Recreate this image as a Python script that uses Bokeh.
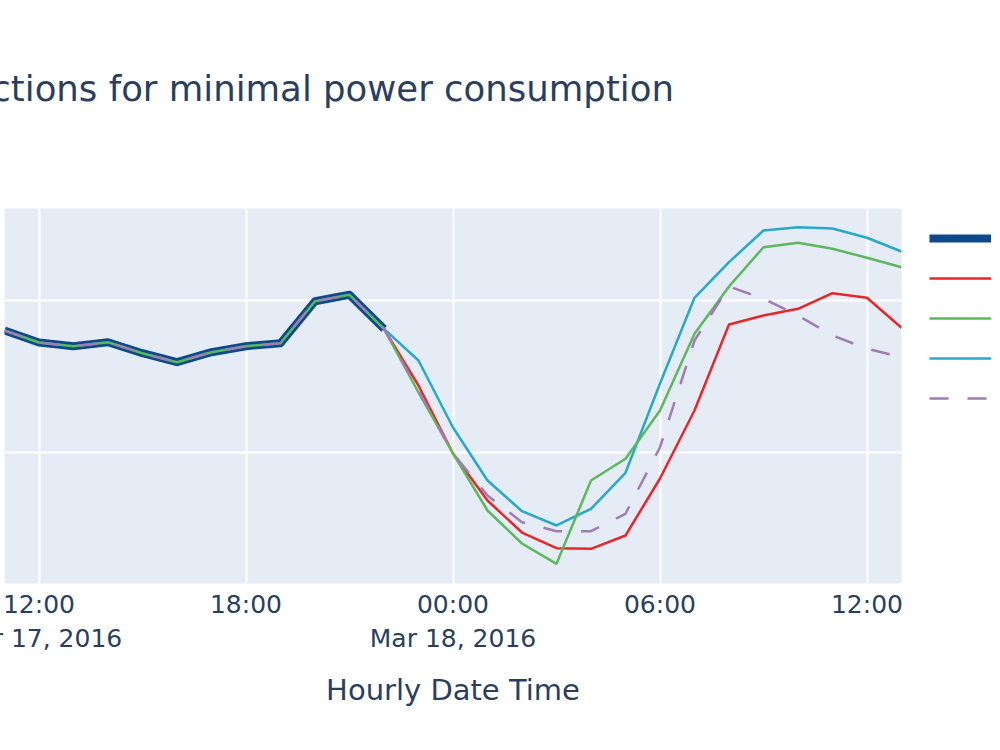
from bokeh.plotting import figure
from bokeh.models import Range1d, FixedTicker, Legend, LegendItem, Title
from bokeh.embed import file_html
from bokeh.resources import INLINE
import pandas as pd

# Hourly time stamps shown on the chart
hours = pd.date_range("2016-03-17 11:00", "2016-03-18 13:00", freq="h")
n_hist = 12  # 11:00 .. 22:00 on Mar 17 are observed values

# Observed consumption (11:00 .. 22:00)
actual = [24013, 23618, 23497, 23628, 23266, 22970, 23299, 23497, 23595, 24977, 25188, 24069]

# Predictions from 22:00 Mar 17 to 13:00 Mar 18
pred_a = [24069, 22204, 19967, 18421, 17368, 16852, 16832, 17270, 19145, 21382, 24211, 24507, 24727, 25240, 25089, 24102]
pred_b = [24069, 21974, 19967, 18092, 17007, 16339, 19079, 19793, 21382, 23905, 25461, 26753, 26898, 26701, 26405, 26095]
pred_c = [24069, 23026, 20822, 19079, 18069, 17599, 18148, 19332, 22270, 25089, 26260, 27303, 27411, 27368, 27063, 26612]
pred_d = [24069, 22039, 19967, 18586, 17707, 17411, 17411, 17984, 20174, 23684, 25461, 25056, 24507, 23849, 23411, 23135]

labels = ["Actual", "Linear Regression", "Random Forest", "XGBoost", "LSTM"]
y_ticks = [20000, 25000]
y_tick_labels = ["20k", "25k"]
x_tick_times = ["2016-03-17 12:00", "2016-03-17 18:00", "2016-03-18 00:00", "2016-03-18 06:00", "2016-03-18 12:00"]
x_tick_labels = ["12:00\nMar 17, 2016", "18:00", "00:00\nMar 18, 2016", "06:00", "12:00"]
title_text = "Predictions for minimal power consumption"

TEXT = "#2a3f5f"
FONT = "DejaVu Sans"

# The reference shows a cropped view: the page is shifted up and left so that
# the y tick labels, the start of the title and the legend labels fall outside.
p = figure(width=1751, height=779, x_axis_type="datetime",
           output_backend="svg", toolbar_location=None,
           min_border_left=116, min_border_right=737, min_border_top=242, min_border_bottom=162,
           styles={"margin-left": "-112px", "margin-top": "-34px", "margin-right": "-650px"})
p.x_range = Range1d(hours[0], hours[-1])
p.y_range = Range1d(15691, 28026)
p.background_fill_color = "#e5ecf6"
p.border_fill_color = "white"
p.outline_line_color = None

p.title = Title(text=title_text, align="left", offset=-102, standoff=199,
                text_font=FONT, text_font_size="35.5px", text_font_style="normal", text_color=TEXT)

# historical line and prediction lines
r0 = p.line(hours[:n_hist], actual, line_color="#0d4a8b", line_width=8, line_join="round")
r1 = p.line(hours[n_hist - 1:], pred_a, line_color="#e8262a", line_width=2.5)
r3 = p.line(hours[n_hist - 1:], pred_c, line_color="#27a9c8", line_width=2.5)
r2 = p.line(hours, actual[:-1] + pred_b, line_color="#5cb85c", line_width=2.5)
r4 = p.line(hours, actual[:-1] + pred_d, line_color="#a07cb5", line_width=2.5, line_dash="19 19")

legend = Legend(items=[LegendItem(label=l, renderers=[r]) for l, r in zip(labels, [r0, r1, r2, r3, r4])],
                location=(28, 171), padding=0, margin=0, spacing=11,
                glyph_width=62, glyph_height=28, label_height=28, label_standoff=16,
                label_text_font=FONT, label_text_font_size="25px", label_text_color=TEXT,
                border_line_color=None, background_fill_alpha=0)
p.add_layout(legend, "right")

# x axis
tick_ms = [int(pd.Timestamp(t).value // 10**6) for t in x_tick_times]
p.xaxis.ticker = FixedTicker(ticks=tick_ms)
p.xaxis.major_label_overrides = dict(zip(tick_ms, x_tick_labels))
p.xaxis.axis_label = "Hourly Date Time"
p.xaxis.axis_label_standoff = 17
p.xaxis.axis_label_text_font = FONT
p.xaxis.axis_label_text_font_size = "29px"
p.xaxis.axis_label_text_font_style = "normal"
p.xaxis.axis_label_text_color = TEXT
p.xaxis.major_label_standoff = 0

# y axis
p.yaxis.ticker = FixedTicker(ticks=y_ticks)
p.yaxis.major_label_overrides = dict(zip(y_ticks, y_tick_labels))
p.yaxis.major_label_standoff = 2

for ax in [p.xaxis[0], p.yaxis[0]]:
    ax.axis_line_color = None
    ax.major_tick_line_color = None
    ax.minor_tick_line_color = None
    ax.major_label_text_font = FONT
    ax.major_label_text_font_size = "25px"
    ax.major_label_text_color = TEXT

p.xgrid.grid_line_color = "white"
p.xgrid.grid_line_width = 2
p.ygrid.grid_line_color = "white"
p.ygrid.grid_line_width = 2

open("out.html", "w").write(file_html(p, INLINE))
